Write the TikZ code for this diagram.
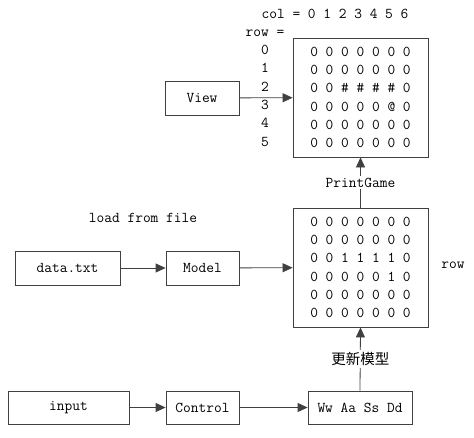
\documentclass[tikz,border=0pt]{standalone}
\usepackage{fontspec}
\newfontfamily\zhfont{Noto Sans CJK SC}
\usetikzlibrary{arrows.meta}
\begin{document}
\begin{tikzpicture}[x=1pt,y=-1pt,
  font=\ttfamily\fontsize{15}{18.3}\selectfont,
  box/.style={draw=black!75,line width=.8pt,minimum height=34pt,inner sep=0pt},
  grid/.style={box,minimum width=135pt,minimum height=119pt,align=center},
  flow/.style={draw=black!75,line width=.8pt,-{Triangle[length=10pt,width=9pt]}}]
\useasboundingbox (0,0) rectangle (474,437);
% top: what the screen shows
\node (col) at (335,14) {col = 0 1 2 3 4 5 6};
\node[align=center] (rows) at (265,88) {row =\\0\\1\\2\\3\\4\\5};
\node[box,minimum width=74pt] (view) at (202,98) {View};
\node[grid] (gridV) at (360.5,97.5) {0 0 0 0 0 0 0\\0 0 0 0 0 0 0\\0 0 \# \# \# \# 0\\0 0 0 0 0 @ 0\\0 0 0 0 0 0 0\\0 0 0 0 0 0 0};
% middle: the model
\node (load) at (143,218) {load from file};
\node[box,minimum width=105pt] (data) at (67.5,268) {data.txt};
\node[box,minimum width=73pt] (model) at (202.5,268) {Model};
\node[grid] (gridM) at (360.5,267.5) {0 0 0 0 0 0 0\\0 0 0 0 0 0 0\\0 0 1 1 1 1 0\\0 0 0 0 0 1 0\\0 0 0 0 0 0 0\\0 0 0 0 0 0 0};
\node (row) at (453,265) {row};
% bottom: keyboard
\node[box,minimum width=121pt,minimum height=33pt] (input) at (68.5,407.5) {input};
\node[box,minimum width=73pt,minimum height=33pt] (control) at (202.5,407.5) {Control};
\node[box,minimum width=104pt,minimum height=33pt] (keys) at (360,407.5) {Ww Aa Ss Dd};
\draw[flow] (view) -- (gridV);
\draw[flow] (data) -- (model);
\draw[flow] (model) -- (gridM);
\draw[flow] (input) -- (control);
\draw[flow] (control) -- (keys);
\draw[flow] (gridM.north) -- node[fill=white,inner sep=2pt] (print) {PrintGame} (gridV.south);
\draw[flow] (keys.north) -- node[fill=white,inner sep=2pt,font=\zhfont\fontsize{14.5}{17}\selectfont] (update) {更新模型} (gridM.south);
\end{tikzpicture}
\end{document}
